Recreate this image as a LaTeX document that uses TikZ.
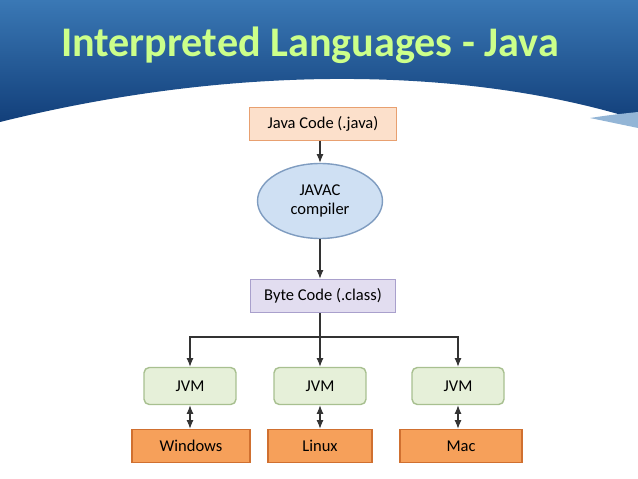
\documentclass[tikz,border=0pt]{standalone}
\usepackage{fontspec}
\setmainfont{Carlito}
\usetikzlibrary{shapes.geometric,arrows.meta,positioning}
\definecolor{bannerdark}{HTML}{123F7A}
\definecolor{bannerlight}{HTML}{3A78B5}
\definecolor{titlegreen}{HTML}{CCFF8A}
\definecolor{peach}{HTML}{FCE0CB}
\definecolor{peachline}{HTML}{E8A070}
\definecolor{skyfill}{HTML}{CFE0F3}
\definecolor{skyline}{HTML}{7F9CC0}
\definecolor{lavender}{HTML}{E2DDF0}
\definecolor{lavline}{HTML}{A9A0CC}
\definecolor{mint}{HTML}{E6F0D9}
\definecolor{mintline}{HTML}{A8C090}
\definecolor{osorange}{HTML}{F6A05A}
\definecolor{osline}{HTML}{D07030}
\begin{document}
\begin{tikzpicture}[x=0.02cm, y=-0.02cm, >={Latex[length=5pt,width=4pt]}, thick,
                    font=\fontsize{9.4}{11}\selectfont]
  \tikzset{
    srcbox/.style = {rectangle, draw=peachline, fill=peach, minimum width=2.95cm,
                     minimum height=0.66cm},
    compiler/.style = {ellipse, draw=skyline, fill=skyfill, minimum width=2.5cm,
                       minimum height=1.5cm, align=center},
    bytebox/.style = {rectangle, draw=lavline, fill=lavender, minimum width=2.9cm,
                      minimum height=0.66cm},
    vmbox/.style = {rectangle, rounded corners=3pt, draw=mintline, fill=mint,
                    minimum width=1.84cm, minimum height=0.74cm},
    osbox/.style = {rectangle, draw=osline, fill=osorange, minimum height=0.66cm},
    link/.style = {draw=black!80, line width=0.6pt}
  }
  \useasboundingbox (0,0) rectangle (638,479);

  % banner
  \shade[top color=bannerlight, bottom color=bannerdark]
    (0,0) -- (638,0) -- (638,120) .. controls (480,70) and (250,60) .. (0,122) -- cycle;
  \fill[bannerlight!55!white] (638,112) .. controls (610,115) .. (590,118)
    -- (638,128) -- cycle;
  \node (title) [text=titlegreen, font=\fontsize{24}{28}\bfseries\selectfont]
    at (310,45) {Interpreted Languages - Java};

  \node (src)  [srcbox]   at (323,124) {Java Code (.java)};
  \node (javac)[compiler] at (320,201) {JAVAC\\compiler};
  \node (byte) [bytebox]  at (323,296) {Byte Code (.class)};

  \node (jvm1) [vmbox] at (190,386) {JVM};
  \node (jvm2) [vmbox] at (320,386) {JVM};
  \node (jvm3) [vmbox] at (458,386) {JVM};

  \node (win)  [osbox, minimum width=2.36cm] at (191,446) {Windows};
  \node (lin)  [osbox, minimum width=2.08cm] at (320,446) {Linux};
  \node (mac)  [osbox, minimum width=2.44cm] at (461,446) {Mac};

  \coordinate (split) at (320,337);
  \draw [link, ->] (src.south -| javac) -- (javac);
  \draw [link, ->] (javac) -- (javac |- byte.north);
  \draw [link] (javac |- byte.south) -- (split);
  \draw [link, ->] (split) -- (jvm2);
  \draw [link, ->] (split) -| (jvm1);
  \draw [link, ->] (split) -| (jvm3);
  \draw [link, <->] (jvm1) -- (jvm1 |- win.north);
  \draw [link, <->] (jvm2) -- (lin);
  \draw [link, <->] (jvm3) -- (jvm3 |- mac.north);
\end{tikzpicture}
\end{document}
